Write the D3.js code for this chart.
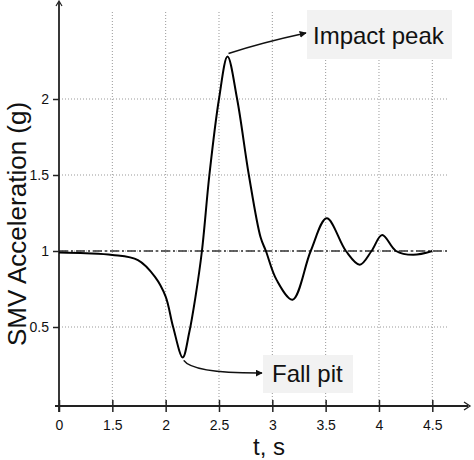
<!DOCTYPE html>
<html>
<head>
<meta charset="utf-8">
<script src="https://cdn.jsdelivr.net/npm/d3@7"></script>
<style>
  body { margin: 0; background: #fff; }
  svg { font-family: "Liberation Sans", Arial, sans-serif; }
</style>
</head>
<body>
<svg width="474" height="460"></svg>
<script>
// time positions (axis is broken: first tick "0" sits where 1.0 would be)
const tPos = [1.00, 1.25, 1.50, 1.74, 1.90, 2.00, 2.07, 2.16, 2.22, 2.28, 2.34, 2.41, 2.50, 2.58, 2.67,
  2.78, 2.89, 2.94, 3.04, 3.19, 3.36, 3.51, 3.69, 3.82, 3.93, 4.03, 4.16, 4.32, 4.50];
const smv = [0.99, 0.985, 0.974, 0.94, 0.83, 0.70, 0.50, 0.30, 0.46, 0.70, 1.00, 1.50, 2.00, 2.28, 2.00,
  1.50, 1.09, 1.00, 0.81, 0.68, 1.00, 1.215, 1.00, 0.91, 1.00, 1.105, 1.00, 0.975, 1.00];

const xTicks = [1, 1.5, 2, 2.5, 3, 3.5, 4, 4.5];
const xTickLabels = ['0', '1.5', '2', '2.5', '3', '3.5', '4', '4.5'];
const yTicks = [0.5, 1, 1.5, 2];
const yTickLabels = ['0.5', '1', '1.5', '2'];

const peakLabel = 'Impact peak';
const pitLabel = 'Fall pit';

const svg = d3.select('svg');
const width = +svg.attr('width');
const height = +svg.attr('height');

const x = d3.scaleLinear().domain([1, 4.5]).range([59, 432.3]);
const y = d3.scaleLinear().domain([0, 2]).range([403, 99]);
const axisY = 406;

svg.append('defs').append('marker')
  .attr('id', 'ah')
  .attr('viewBox', '0 0 10 10')
  .attr('refX', 9).attr('refY', 5)
  .attr('markerWidth', 7).attr('markerHeight', 7)
  .attr('markerUnits', 'userSpaceOnUse')
  .attr('orient', 'auto')
  .append('path')
  .attr('d', 'M0,0 L10,5 L0,10 Z')
  .attr('fill', '#111');

// grid
const grid = svg.append('g').attr('stroke', '#999').attr('stroke-width', 1).attr('stroke-dasharray', '1,2');
grid.selectAll('line.v').data(xTicks.slice(1)).join('line')
  .attr('x1', d => x(d)).attr('x2', d => x(d))
  .attr('y1', axisY).attr('y2', 10);
grid.selectAll('line.h').data(yTicks).join('line')
  .attr('x1', x(1)).attr('x2', 447)
  .attr('y1', d => y(d)).attr('y2', d => y(d));

// reference line at 1 g
svg.append('line')
  .attr('x1', x(1)).attr('x2', 447)
  .attr('y1', y(1)).attr('y2', y(1))
  .attr('stroke', '#333').attr('stroke-width', 1.5)
  .attr('stroke-dasharray', '9,3,2,3');

// x axis
const xAxis = svg.append('g')
  .attr('transform', `translate(0,${axisY})`)
  .call(d3.axisBottom(x).tickValues(xTicks).tickFormat((d, i) => xTickLabels[i]).tickSize(6).tickSizeOuter(0));
xAxis.select('.domain').remove();
xAxis.selectAll('.tick line').attr('y1', -6).attr('y2', 6).attr('stroke', '#222').attr('stroke-width', 1.5);
xAxis.selectAll('.tick text').attr('y', 14).attr('font-size', 14).attr('fill', '#111')
  .attr('font-family', 'Liberation Sans, Arial, sans-serif');
svg.append('line').attr('x1', 55).attr('x2', 468).attr('y1', axisY).attr('y2', axisY)
  .attr('stroke', '#222').attr('stroke-width', 2);
svg.append('path').attr('d', `M464,${axisY - 4} L470,${axisY} L464,${axisY + 4}`)
  .attr('fill', 'none').attr('stroke', '#222').attr('stroke-width', 1.3);

// y axis
const yAxis = svg.append('g')
  .attr('transform', `translate(${x(1)},0)`)
  .call(d3.axisLeft(y).tickValues(yTicks).tickFormat((d, i) => yTickLabels[i]).tickSize(6).tickSizeOuter(0));
yAxis.select('.domain').remove();
yAxis.selectAll('.tick line').attr('stroke', '#222').attr('stroke-width', 1.5);
yAxis.selectAll('.tick text').attr('x', -10).attr('font-size', 14).attr('fill', '#111')
  .attr('font-family', 'Liberation Sans, Arial, sans-serif');
svg.append('line').attr('x1', x(1)).attr('x2', x(1)).attr('y1', axisY + 6).attr('y2', 2)
  .attr('stroke', '#222').attr('stroke-width', 1.8);
svg.append('path').attr('d', `M${x(1) - 3},6 L${x(1)},1 L${x(1) + 3},6`)
  .attr('fill', 'none').attr('stroke', '#222').attr('stroke-width', 1.2);

// curve
const pts = tPos.map((t, i) => [t, smv[i]]);
svg.append('path')
  .datum(pts)
  .attr('fill', 'none')
  .attr('stroke', '#000')
  .attr('stroke-width', 2)
  .attr('d', d3.line().x(d => x(d[0])).y(d => y(d[1])).curve(d3.curveCatmullRom.alpha(0.5)));

// annotations
const iPeak = smv.indexOf(d3.max(smv));
const iPit = smv.indexOf(d3.min(smv));
const px = x(tPos[iPeak]), py = y(smv[iPeak]);
const fx = x(tPos[iPit]), fy = y(smv[iPit]);

svg.append('rect').attr('x', 307).attr('y', 10).attr('width', 145).attr('height', 49).attr('fill', '#f2f2f2');
svg.append('text').attr('x', 313).attr('y', 44).attr('font-size', 24).attr('fill', '#111').text(peakLabel);
svg.append('path')
  .attr('d', `M${px + 1},${py - 3} Q${px + 35},${py - 14} 306,33`)
  .attr('fill', 'none').attr('stroke', '#111').attr('stroke-width', 1.6)
  .attr('marker-end', 'url(#ah)');

svg.append('rect').attr('x', 263).attr('y', 355).attr('width', 90).attr('height', 38).attr('fill', '#f2f2f2');
svg.append('text').attr('x', 272).attr('y', 382).attr('font-size', 24).attr('fill', '#111').text(pitLabel);
svg.append('path')
  .attr('d', `M${fx + 1},${fy + 3} Q${fx + 10},${fy + 16} 262,373`)
  .attr('fill', 'none').attr('stroke', '#111').attr('stroke-width', 1.6)
  .attr('marker-end', 'url(#ah)');

// axis titles
svg.append('text')
  .attr('transform', `translate(26,224) rotate(-90)`)
  .attr('text-anchor', 'middle')
  .attr('font-size', 26).attr('fill', '#111')
  .text('SMV Acceleration (g)');
svg.append('text')
  .attr('x', 269).attr('y', 455)
  .attr('text-anchor', 'middle')
  .attr('font-size', 24).attr('fill', '#111')
  .text('t, s');
</script>
</body>
</html>
